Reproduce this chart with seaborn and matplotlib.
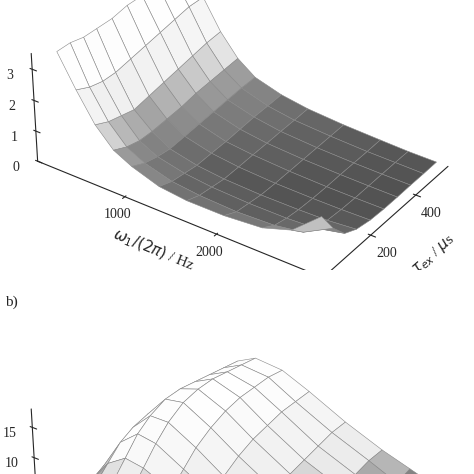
import numpy as np
import matplotlib
matplotlib.use("Agg")
import matplotlib.pyplot as plt
import seaborn as sns
from matplotlib.colors import LightSource

sns.set_style("white")
plt.rcParams['font.family'] = ['Liberation Serif', 'DejaVu Serif']

# grid axes
omega = np.array([200, 400, 600, 800, 1000, 1300, 1600, 2000, 2400, 2700, 3000])
tau = np.array([30, 80, 130, 180, 240, 300, 360, 420, 480, 540])

# panel a) error / %
err_a = np.array([
    [3.6, 2.6, 1.7, 1.1, 0.8, 0.5, 0.4, 0.4, 0.5, 0.8, 1.6],
    [3.6, 2.4, 1.5, 0.9, 0.6, 0.35, 0.25, 0.2, 0.25, 0.4, 0.9],
    [3.5, 2.3, 1.4, 0.8, 0.5, 0.3, 0.2, 0.15, 0.15, 0.2, 0.4],
    [3.5, 2.3, 1.3, 0.8, 0.45, 0.25, 0.15, 0.1, 0.1, 0.12, 0.2],
    [3.5, 2.4, 1.4, 0.85, 0.5, 0.28, 0.17, 0.1, 0.08, 0.08, 0.1],
    [3.6, 2.5, 1.5, 0.9, 0.55, 0.3, 0.2, 0.12, 0.08, 0.07, 0.07],
    [3.6, 2.6, 1.6, 1.0, 0.6, 0.35, 0.22, 0.14, 0.1, 0.08, 0.07],
    [3.7, 2.7, 1.7, 1.05, 0.65, 0.4, 0.25, 0.16, 0.11, 0.09, 0.08],
    [3.7, 2.8, 1.8, 1.1, 0.7, 0.42, 0.27, 0.18, 0.12, 0.1, 0.08],
    [3.7, 2.8, 1.85, 1.15, 0.72, 0.45, 0.3, 0.2, 0.14, 0.1, 0.09],
])

# panel b) error / %
err_b = np.array([
    [2.0, 5.0, 8.0, 9.5, 9.0, 8.0, 7.5, 8.0, 10.0, 12.5, 15.0],
    [2.0, 6.0, 10.0, 12.0, 11.5, 9.5, 8.0, 7.0, 7.5, 9.0, 11.0],
    [2.0, 7.0, 12.0, 14.5, 14.0, 11.5, 9.0, 7.0, 6.0, 6.5, 8.0],
    [2.0, 7.5, 13.0, 16.0, 16.0, 13.5, 10.5, 7.5, 6.0, 5.5, 6.0],
    [2.0, 7.5, 13.5, 17.0, 17.5, 15.0, 12.0, 8.5, 6.5, 5.5, 5.0],
    [2.0, 7.5, 13.5, 17.0, 18.0, 16.0, 13.0, 9.5, 7.0, 6.0, 5.0],
    [2.0, 7.0, 13.0, 16.5, 18.0, 16.5, 13.5, 10.0, 7.5, 6.0, 5.0],
    [2.0, 7.0, 12.5, 16.0, 17.5, 16.5, 14.0, 10.5, 8.0, 6.5, 5.5],
    [2.0, 6.5, 12.0, 15.5, 17.0, 16.5, 14.0, 11.0, 8.5, 6.5, 5.5],
    [2.0, 6.5, 11.5, 15.0, 16.5, 16.0, 14.0, 11.0, 8.5, 7.0, 5.5],
])

W, T = np.meshgrid(omega, tau)
ls = LightSource(azdeg=300, altdeg=45)
greys = matplotlib.colors.LinearSegmentedColormap.from_list('g', ['#3a3a3a', '#f4f4f4', '#ffffff'])

fig = plt.figure(figsize=(4.74, 4.74), dpi=100)


def panel(rect, Z, zmax, zticks):
    ax = fig.add_axes(rect, projection='3d')
    rgb = ls.shade(Z, cmap=greys, vert_exag=0.05, blend_mode='soft')
    ax.plot_surface(W, T, Z, facecolors=rgb, rstride=1, cstride=1,
                    edgecolor='#888888', linewidth=0.4, antialiased=True, shade=False)
    ax.set_xlim(0, 3100)
    ax.set_ylim(0, 550)
    ax.set_zlim(0, zmax)
    ax.set_xticks([1000, 2000, 3000])
    ax.set_yticks([200, 400])
    ax.set_zticks(zticks)
    ax.set_xlabel(r'$\omega_1/(2\pi)$ / Hz', fontsize=11, labelpad=2)
    ax.set_ylabel(r'$\tau_{ex}$ / $\mu$s', fontsize=11, labelpad=2)
    ax.set_zlabel('Error / %', fontsize=11, labelpad=2)
    ax.set_box_aspect((1.5, 1.0, 0.55), zoom=1.05)
    ax.view_init(elev=32, azim=-55)
    ax.zaxis._axinfo['juggled'] = (1, 2, 0)
    for a in (ax.xaxis, ax.yaxis, ax.zaxis):
        a.set_pane_color((1, 1, 1, 0))
        a._axinfo['grid']['linewidth'] = 0
    ax.tick_params(labelsize=10, pad=0)
    return ax


panel([-0.05, 0.33, 1.1, 0.85], err_a, 3.5, [0, 1, 2, 3])
panel([-0.05, -0.42, 1.1, 0.85], err_b, 18, [0, 5, 10, 15])
fig.text(0.01, 0.355, 'b)', fontsize=11)

fig.savefig('out.png', dpi=100)
